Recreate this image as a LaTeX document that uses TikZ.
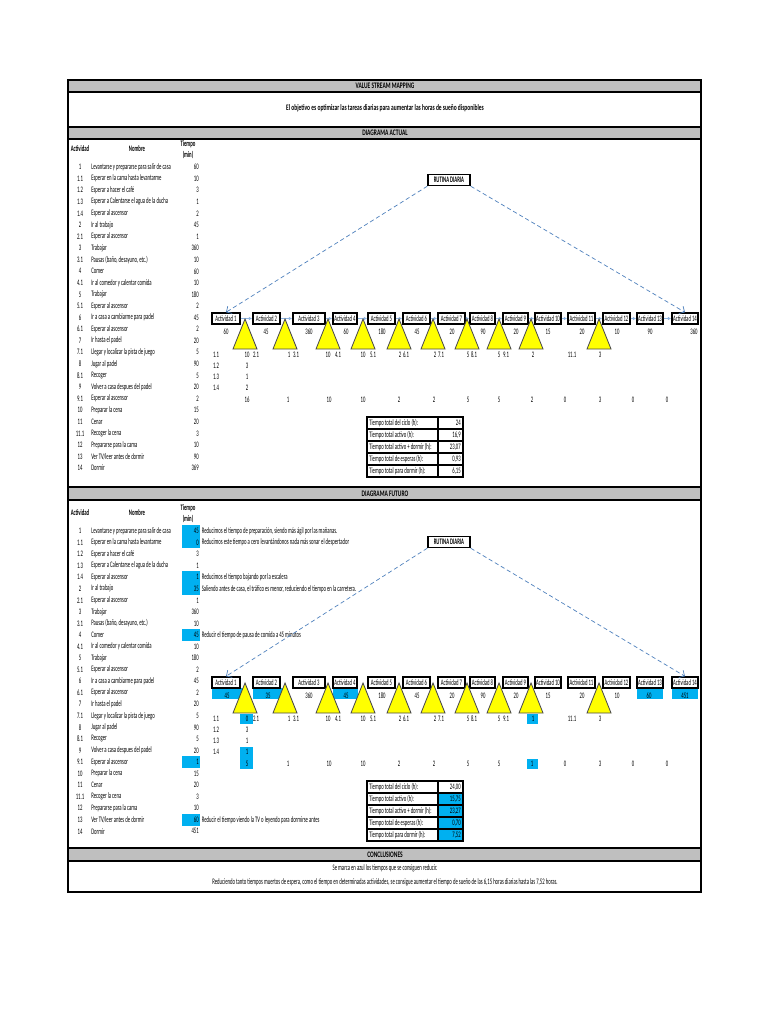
\documentclass[tikz,border=0pt]{standalone}
\usepackage{fontspec}
\setmainfont{Carlito}[FakeStretch=0.56]
\newfontfamily\widefont{Carlito}[FakeStretch=0.65]
\usetikzlibrary{arrows.meta,positioning}
\definecolor{cellblue}{RGB}{0,176,240}
\definecolor{bandgray}{RGB}{191,191,191}
\definecolor{linkblue}{RGB}{79,129,189}
\definecolor{pushblue}{RGB}{141,180,226}
\definecolor{waityellow}{RGB}{255,255,0}
\newcommand{\cellfont}{\fontsize{6}{7}\selectfont}

\begin{document}
\begin{tikzpicture}[x=0.025cm, y=-0.025cm,
    every node/.style={inner sep=0pt, font=\cellfont},
    hdr/.style={font=\cellfont\bfseries},
    bandtitle/.style={font=\widefont\cellfont\bfseries},
    band/.style={fill=bandgray, draw=black, line width=1.2pt},
    actbox/.style={draw=black, line width=1pt, fill=white, minimum height=0.275cm},
    push/.style={draw=pushblue, line width=0.8pt, -{Latex[length=2.5pt,width=2.5pt]}},
    link/.style={draw=linkblue, densely dashed, line width=0.5pt, -{Straight Barb[length=3pt]}},
    waittri/.style={fill=waityellow, draw=black!70, line width=0.6pt},
    sumcell/.style={draw=black, line width=0.8pt}]
\useasboundingbox (0,0) rectangle (768,1024);
\fill[white] (0,0) rectangle (768,1024);

% marco y bandas
\draw[line width=1pt] (68,80) rectangle (701,892);
\draw[band] (68,80) rectangle (701,92);
\draw[band] (68,127) rectangle (701,139);
\draw[band] (68,487) rectangle (701,500);
\draw[band] (68,848) rectangle (701,861);
\node[bandtitle] (vsm) at (385,86) {VALUE STREAM MAPPING};
\node[bandtitle] (goal) at (385,108) {El objetivo es optimizar las tareas diarias para aumentar las horas de sueño disponibles};
\node[bandtitle] (cur) at (385,133) {DIAGRAMA ACTUAL};
\node[bandtitle] (fut) at (385,494) {DIAGRAMA FUTURO};
\node[bandtitle] (concl) at (385,855) {CONCLUSIONES};
\node (concl-1) at (385,868) {Se marca en azul los tiempos que se consiguen reducir.};
\node (concl-2) at (385,882) {Reduciendo tanto tiempos muertos de espera, como el tiempo en determinadas actividades, se consigue aumentar el tiempo de sueño de las 6,15 horas diarias hasta las 7,52 horas.};

% cabeceras de las tablas
\foreach \s/\dy in {a/0,f/364}{
    \node[hdr] (\s-hact) at (80,149+\dy) {Actividad};
    \node[hdr] (\s-hnom) at (137,149+\dy) {Nombre};
    \node[hdr] (\s-htie) at (188,144+\dy) {Tiempo};
    \node[hdr] (\s-hmin) at (188,155+\dy) {(min)};
}

% celdas reducidas (futuro)
\foreach \i in {0,1,4,5,9,20,25}
    \fill[cellblue] (182,{531+11.55*\i-5.9}) rectangle (200,{531+11.55*\i+5.9});

% tablas de actividades
\foreach \id/\name/\ta/\tf [count=\i from 0] in {
    1/Levantarse y prepararse para salir de casa/60/45,
    1.1/Esperar en la cama hasta levantarme/10/0,
    1.2/Esperar a hacer el café/3/3,
    1.3/Esperar a Calentarse el agua de la ducha/1/1,
    1.4/Esperar al ascensor/2/1,
    2/Ir al trabajo/45/35,
    2.1/Esperar al ascensor/1/1,
    3/Trabajar/360/360,
    3.1/{Pausas (baño, desayuno, etc.)}/10/10,
    4/Comer/60/45,
    4.1/Ir al comedor y calentar comida/10/10,
    5/Trabajar/180/180,
    5.1/Esperar al ascensor/2/2,
    6/Ir a casa a cambiarme para padel/45/45,
    6.1/Esperar al ascensor/2/2,
    7/Ir hasta el padel/20/20,
    7.1/Llegar y localizar la pista de juego/5/5,
    8/Jugar al padel/90/90,
    8.1/Recoger/5/5,
    9/Volver a casa despues del padel/20/20,
    9.1/Esperar al ascensor/2/1,
    10/Preparar la cena/15/15,
    11/Cenar/20/20,
    11.1/Recoger la cena/3/3,
    12/Prepararse para la cama/10/10,
    13/{Ver TV/leer antes de dormir}/90/60,
    14/Dormir/369/451}{
    \pgfmathsetmacro\ya{167+11.58*\i}
    \pgfmathsetmacro\yf{531+11.55*\i}
    \node (a-id-\i) at (80,\ya) {\id};
    \node[anchor=west] (a-nm-\i) at (91,\ya) {\name};
    \node[anchor=east] (a-tm-\i) at (199,\ya) {\ta};
    \node (f-id-\i) at (80,\yf) {\id};
    \node[anchor=west] (f-nm-\i) at (91,\yf) {\name};
    \node[anchor=east] (f-tm-\i) at (199,\yf) {\tf};
}

% mejoras propuestas
\foreach \i/\txt in {
    0/{Reducimos el tiempo de preparación, siendo más ágil por las mañanas.},
    1/Reducimos este tiempo a cero levantándonos nada más sonar el despertador,
    4/Reducimos el tiempo bajando por la escalera,
    5/{Saliendo antes de casa, el tráfico es menor, reduciendo el tiempo en la carretera.},
    9/Reducir el tiempo de pausa de comida a 45 minutos,
    25/Reducir el tiempo viendo la TV o leyendo para dormirse antes}
    \node[anchor=west] (note-\i) at (201.5,{531+11.55*\i}) {\txt};

% rutina diaria
\node[actbox, hdr, minimum width=1.05cm] (a-rut) at (449,180) {RUTINA DIARIA};
\node[actbox, hdr, minimum width=1.05cm] (f-rut) at (449,542) {RUTINA DIARIA};

% celdas reducidas bajo las actividades (futuro)
\foreach \l/\r in {212/243,253/285,333/358,637/663,672/698}
    \fill[cellblue] (\l,688) rectangle (\r,698.5);

% actividades
\foreach \l/\r [count=\k] in {212/240,253/280,293/325,333/357,368/395,403/430,438/465,
        470/495,503/528,535/561,568/595,603/630,637/663,672/698}{
    \node[actbox, minimum width={(\r-\l)*0.025cm}] (a\k) at ({(\l+\r)/2},318.5) {Actividad \k};
    \node[actbox, minimum width={(\r-\l)*0.025cm}] (f\k) at ({(\l+\r)/2},682.5) {Actividad \k};
}
\foreach \k [evaluate=\k as \n using int(\k+1)] in {1,...,13}
    \draw[push] (a\k.east) -- (a\n.west);
\draw[link] (a-rut.south west) -- (a1.north);
\draw[link] (a-rut.south east) -- (a14.north);
\draw[link] (f-rut.south west) -- (f1.north);
\draw[link] (f-rut.south east) -- (f14.north);

% tiempos de cada actividad
\foreach \x/\va/\xf/\vf [count=\k] in {226/60/227/45,266/45/268/35,309/360/309/360,346/60/346/45,
        382/180/382/180,417/45/417/45,452/20/452/20,483/90/483/90,516/20/516/20,
        548/15/548/15,582/20/582/20,617/10/617/10,650/90/649/60,694/360/685/451}{
    \node (a-val-\k) at (\x,331.5) {\va};
    \node (f-val-\k) at (\xf,695.5) {\vf};
}

% esperas
\foreach \x in {245,285,328,363,399,433,467,499,531,599}{
    \draw[waittri] (\x,319) -- (\x-12,349) -- (\x+12,349) -- cycle;
    \draw[waittri] (\x,683) -- (\x-12,713) -- (\x+12,713) -- cycle;
}
\fill[cellblue] (240,713.5) rectangle (253,724);
\fill[cellblue] (527,713.5) rectangle (538,724);
\fill[cellblue] (240,746.5) rectangle (253,769);
\fill[cellblue] (527,759) rectangle (538,769);
\foreach \x/\lab in {216/1.1,256/2.1,296/3.1,338/4.1,373/5.1,406/6.1,441/7.1,474/8.1,506/9.1,572/11.1}{
    \node (a-wl-\x) at (\x,355) {\lab};
    \node (f-wl-\x) at (\x,719) {\lab};
}
\foreach \x/\va/\vf in {247/10/0,289/1/1,328/10/10,363/10/10,400/2/2,435/2/2,468/5/5,499/5/5,533/2/1,600/3/3}{
    \node (a-wv-\x) at (\x,355) {\va};
    \node (f-wv-\x) at (\x,719) {\vf};
}
\foreach \lab/\va/\vf/\y in {1.2/3/3/366,1.3/1/1/377,1.4/2/1/388}{
    \node (a-sl-\lab) at (216,\y) {\lab};
    \node (a-sv-\lab) at (247,\y) {\va};
    \node (f-sl-\lab) at (216,\y+364) {\lab};
    \node (f-sv-\lab) at (247,\y+364) {\vf};
}
\foreach \x/\va/\vf in {247/16/5,288/1/1,329/10/10,363/10/10,399/2/2,434/2/2,468/5/5,
        499/5/5,532/2/1,565/0/0,600/3/3,633/0/0,667/0/0}{
    \node (a-tot-\x) at (\x,400) {\va};
    \node (f-tot-\x) at (\x,764) {\vf};
}

% resumen de tiempos
\foreach \i in {1,...,4}
    \fill[cellblue] (438,{781+12*\i}) rectangle (463,{793+12*\i});
\foreach \lab/\va/\vf [count=\i from 0] in {
    Tiempo total del ciclo (h):/24/{24,00},
    Tiempo total activo (h):/{16,9}/{15,75},
    Tiempo total activo + dormir (h):/{23,07}/{23,27},
    Tiempo total de esperas (h):/{0,93}/{0,70},
    Tiempo total para dormir (h):/{6,15}/{7,52}}{
    \draw[sumcell] (367,{417+12*\i}) rectangle (438,{429+12*\i});
    \draw[sumcell] (438,{417+12*\i}) rectangle (463,{429+12*\i});
    \draw[sumcell] (367,{781+12*\i}) rectangle (438,{793+12*\i});
    \draw[sumcell] (438,{781+12*\i}) rectangle (463,{793+12*\i});
    \node[anchor=west] (a-sum-\i) at (369,{423+12*\i}) {\lab};
    \node[anchor=east] (a-res-\i) at (461,{423+12*\i}) {\va};
    \node[anchor=west] (f-sum-\i) at (369,{787+12*\i}) {\lab};
    \node[anchor=east] (f-res-\i) at (461,{787+12*\i}) {\vf};
}
\end{tikzpicture}
\end{document}
